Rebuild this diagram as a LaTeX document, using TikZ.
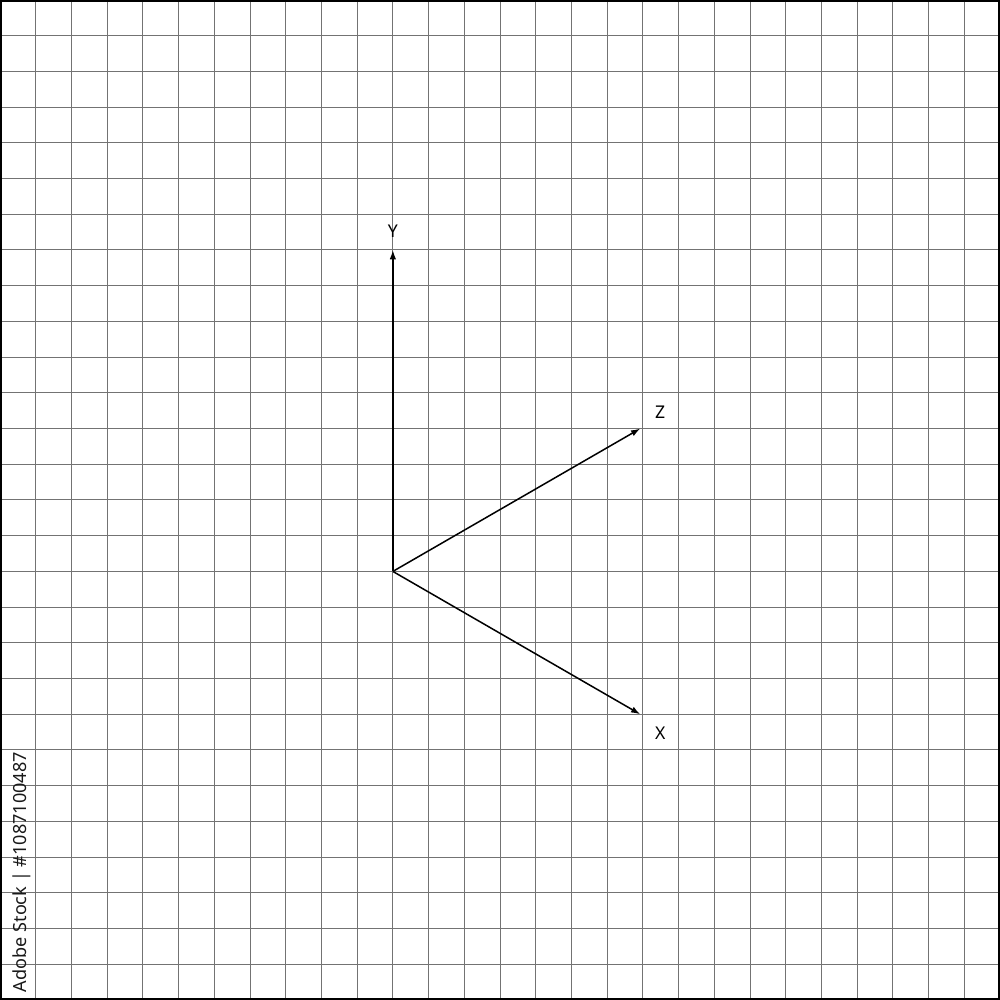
\documentclass[tikz,border=0pt]{standalone}
\usepackage{fontspec}
\setsansfont{Noto Sans}
\usetikzlibrary{positioning,arrows.meta,calc}

\tikzset{
  axis/.style = {line width=0.6pt, -{Latex[length=1.3mm,width=0.9mm]}},
  axislabel/.style = {inner sep=0pt, font=\sffamily\fontsize{7}{8}\selectfont},
  stamp/.style = {inner sep=0pt, rotate=90, text=black!90, font=\sffamily\fontsize{7.2}{9}\selectfont},
}

\begin{document}
\begin{tikzpicture}[x=0.5cm, y=0.5cm]
        \useasboundingbox (0,0) rectangle (28,28);
        \draw[black!55, line width=0.4pt, step=0.5cm] (0,0) grid (28,28);
        \draw[line width=1.6pt] (0,0) rectangle (28,28);

        \coordinate (o) at (11,12);
        \coordinate (yend) at (11,21);
        \coordinate (zend) at ($(o)+(30:8)$);
        \coordinate (xend) at ($(o)+(-30:8)$);

        \node[axislabel, above=0.17cm of yend] (ylab) {Y};
        \node[axislabel, above right=0.14cm and 0.2cm of zend] (zlab) {Z};
        \node[axislabel, below right=0.17cm and 0.2cm of xend] (xlab) {X};

        \draw[axis] (o) -- (yend);
        \draw[axis] (o) -- (zend);
        \draw[axis] (o) -- (xend);

        \node[stamp] (mark) at (0.62,3.58) {\textbf{Adobe Stock | \#1087100487}};
\end{tikzpicture}
\end{document}
